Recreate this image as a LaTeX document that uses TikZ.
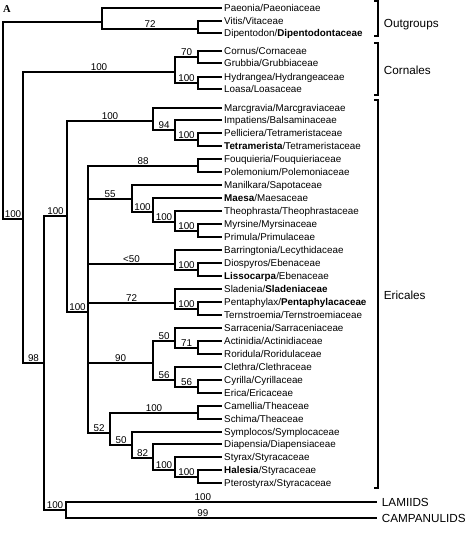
\documentclass[tikz,border=0pt]{standalone}
\usepackage{fontspec}
\setmainfont{Liberation Sans}
\newfontfamily\panelfont{Liberation Serif}
\usepackage{tikz}
\usetikzlibrary{positioning}
\newcommand{\leaffont}{\fontsize{8.4}{9}\selectfont}
\newcommand{\groupfont}{\fontsize{10}{12}\selectfont}

\begin{document}
\begin{tikzpicture}[
            x=0.03cm, y=-0.03cm,
            branch/.style={line width=1.2pt},
            leaf/.style={anchor=west, inner xsep=1.7pt, inner ysep=0pt, text height=6pt, text depth=0pt, font=\leaffont},
            support/.style={above, inner sep=0.7pt, font=\leaffont},
            clade/.style={anchor=west, inner xsep=4pt, inner ysep=0pt, text height=7pt, text depth=0pt, font=\groupfont},
            bracket/.style={line width=0.9pt},
        ]
        \useasboundingbox (0,0) rectangle (474,540);

        % Panel letter
        \node[font=\panelfont\bfseries\fontsize{9}{10}\selectfont] (panel) at (7,9) {A};

        % Leaves
        \node[leaf] (paeonia) at (222,8) {Paeonia/Paeoniaceae};
        \node[leaf] (vitis) at (222,21) {Vitis/Vitaceae};
        \node[leaf] (dipentodon) at (222,33) {Dipentodon/\textbf{Dipentodontaceae}};
        \node[leaf] (cornus) at (222,51) {Cornus/Cornaceae};
        \node[leaf] (grubbia) at (222,63) {Grubbia/Grubbiaceae};
        \node[leaf] (hydrangea) at (222,77) {Hydrangea/Hydrangeaceae};
        \node[leaf] (loasa) at (222,89) {Loasa/Loasaceae};
        \node[leaf] (marcgravia) at (222,108) {Marcgravia/Marcgraviaceae};
        \node[leaf] (impatiens) at (222,120) {Impatiens/Balsaminaceae};
        \node[leaf] (pelliciera) at (222,133) {Pelliciera/Tetrameristaceae};
        \node[leaf] (tetramerista) at (222,146) {\textbf{Tetramerista}/Tetrameristaceae};
        \node[leaf] (fouquieria) at (222,159) {Fouquieria/Fouquieriaceae};
        \node[leaf] (polemonium) at (222,172) {Polemonium/Polemoniaceae};
        \node[leaf] (manilkara) at (222,185) {Manilkara/Sapotaceae};
        \node[leaf] (maesa) at (222,198) {\textbf{Maesa}/Maesaceae};
        \node[leaf] (theophrasta) at (222,211) {Theophrasta/Theophrastaceae};
        \node[leaf] (myrsine) at (222,224) {Myrsine/Myrsinaceae};
        \node[leaf] (primula) at (222,237) {Primula/Primulaceae};
        \node[leaf] (barringtonia) at (222,250) {Barringtonia/Lecythidaceae};
        \node[leaf] (diospyros) at (222,263) {Diospyros/Ebenaceae};
        \node[leaf] (lissocarpa) at (222,276) {\textbf{Lissocarpa}/Ebenaceae};
        \node[leaf] (sladenia) at (222,289) {Sladenia/\textbf{Sladeniaceae}};
        \node[leaf] (pentaphylax) at (222,302) {Pentaphylax/\textbf{Pentaphylacaceae}};
        \node[leaf] (ternstroemia) at (222,315) {Ternstroemia/Ternstroemiaceae};
        \node[leaf] (sarracenia) at (222,328) {Sarracenia/Sarraceniaceae};
        \node[leaf] (actinidia) at (222,341) {Actinidia/Actinidiaceae};
        \node[leaf] (roridula) at (222,354) {Roridula/Roridulaceae};
        \node[leaf] (clethra) at (222,367) {Clethra/Clethraceae};
        \node[leaf] (cyrilla) at (222,380) {Cyrilla/Cyrillaceae};
        \node[leaf] (erica) at (222,393) {Erica/Ericaceae};
        \node[leaf] (camellia) at (222,406) {Camellia/Theaceae};
        \node[leaf] (schima) at (222,419) {Schima/Theaceae};
        \node[leaf] (symplocos) at (222,432) {Symplocos/Symplocaceae};
        \node[leaf] (diapensia) at (222,444) {Diapensia/Diapensiaceae};
        \node[leaf] (styrax) at (222,457) {Styrax/Styracaceae};
        \node[leaf] (halesia) at (222,470) {\textbf{Halesia}/Styracaceae};
        \node[leaf] (pterostyrax) at (222,483) {Pterostyrax/Styracaceae};
        \node[clade] (lamiids) at (377,502) {LAMIIDS};
        \node[clade] (campanulids) at (377,518) {CAMPANULIDS};

        % Internal nodes
        \coordinate (root) at (3,122);
        \coordinate (outgroup_node) at (102,22);
        \coordinate (vitis_node) at (198,29);
        \coordinate (core_node) at (23,219);
        \coordinate (cornales_node) at (175,72);
        \coordinate (cornus_node) at (198,57);
        \coordinate (hydrangea_node) at (198,83);
        \coordinate (asterid_node) at (44,363);
        \coordinate (sister_node) at (66,510);
        \coordinate (ericales_node) at (67,216);
        \coordinate (marcgravia_node) at (153,121);
        \coordinate (impatiens_node) at (175,130);
        \coordinate (tetramerista_node) at (198,140);
        \coordinate (ericales_core) at (88,312);
        \coordinate (fouquieria_node) at (198,166);
        \coordinate (primuloid_node) at (132,199);
        \coordinate (maesa_node) at (153,212);
        \coordinate (theophrasta_node) at (175,222);
        \coordinate (myrsine_node) at (198,231);
        \coordinate (barringtonia_node) at (175,264);
        \coordinate (lissocarpa_node) at (198,270);
        \coordinate (sladenia_node) at (175,303);
        \coordinate (pentaphylax_node) at (198,309);
        \coordinate (ericoid_node) at (153,363);
        \coordinate (sarracenia_node) at (175,341);
        \coordinate (actinidia_node) at (198,348);
        \coordinate (clethra_node) at (175,380);
        \coordinate (cyrilla_node) at (198,387);
        \coordinate (styracoid_node) at (110,433);
        \coordinate (camellia_node) at (198,413);
        \coordinate (symplocos_node) at (132,445);
        \coordinate (diapensia_node) at (153,458);
        \coordinate (styrax_node) at (175,470);
        \coordinate (halesia_node) at (198,477);

        % Backbone
        \draw[branch] (root) |- (outgroup_node);
        \draw[branch] (root) |- node[support, pos=0.75] {100} (core_node);
        \draw[branch] (core_node) |- node[support, pos=0.75] {100} (cornales_node);
        \draw[branch] (core_node) |- node[support, pos=0.75] {98} (asterid_node);
        \draw[branch] (asterid_node) |- node[support, pos=0.75] {100} (ericales_node);
        \draw[branch] (asterid_node) |- node[support, pos=0.75] {100} (sister_node);
        \draw[branch] (sister_node) |- node[support, pos=0.72] {100} (lamiids.west);
        \draw[branch] (sister_node) |- node[support, pos=0.72] {99} (campanulids.west);

        % Outgroups
        \draw[branch] (outgroup_node) |- (paeonia.west);
        \draw[branch] (outgroup_node) |- node[support, pos=0.75] {72} (vitis_node);
        \draw[branch] (vitis_node) |- (vitis.west);
        \draw[branch] (vitis_node) |- (dipentodon.west);

        % Cornales
        \draw[branch] (cornales_node) |- node[support, pos=0.75] {70} (cornus_node);
        \draw[branch] (cornales_node) |- node[support, pos=0.75] {100} (hydrangea_node);
        \draw[branch] (cornus_node) |- (cornus.west);
        \draw[branch] (cornus_node) |- (grubbia.west);
        \draw[branch] (hydrangea_node) |- (hydrangea.west);
        \draw[branch] (hydrangea_node) |- (loasa.west);

        % Ericales
        \draw[branch] (ericales_node) |- node[support, pos=0.75] {100} (marcgravia_node);
        \draw[branch] (ericales_node) |- node[support, pos=0.75] {100} (ericales_core);
        \draw[branch] (marcgravia_node) |- (marcgravia.west);
        \draw[branch] (marcgravia_node) |- node[support, pos=0.75] {94} (impatiens_node);
        \draw[branch] (impatiens_node) |- (impatiens.west);
        \draw[branch] (impatiens_node) |- node[support, pos=0.75] {100} (tetramerista_node);
        \draw[branch] (tetramerista_node) |- (pelliciera.west);
        \draw[branch] (tetramerista_node) |- (tetramerista.west);

        \draw[branch] (ericales_core) |- node[support, pos=0.75] {88} (fouquieria_node);
        \draw[branch] (ericales_core) |- node[support, pos=0.75] {55} (primuloid_node);
        \draw[branch] (ericales_core) |- node[support, pos=0.75] {<50} (barringtonia_node);
        \draw[branch] (ericales_core) |- node[support, pos=0.75] {72} (sladenia_node);
        \draw[branch] (ericales_core) |- node[support, pos=0.75] {90} (ericoid_node);
        \draw[branch] (ericales_core) |- node[support, pos=0.75] {52} (styracoid_node);

        \draw[branch] (fouquieria_node) |- (fouquieria.west);
        \draw[branch] (fouquieria_node) |- (polemonium.west);

        \draw[branch] (primuloid_node) |- (manilkara.west);
        \draw[branch] (primuloid_node) |- node[support, pos=0.75] {100} (maesa_node);
        \draw[branch] (maesa_node) |- (maesa.west);
        \draw[branch] (maesa_node) |- node[support, pos=0.75] {100} (theophrasta_node);
        \draw[branch] (theophrasta_node) |- (theophrasta.west);
        \draw[branch] (theophrasta_node) |- node[support, pos=0.75] {100} (myrsine_node);
        \draw[branch] (myrsine_node) |- (myrsine.west);
        \draw[branch] (myrsine_node) |- (primula.west);

        \draw[branch] (barringtonia_node) |- (barringtonia.west);
        \draw[branch] (barringtonia_node) |- node[support, pos=0.75] {100} (lissocarpa_node);
        \draw[branch] (lissocarpa_node) |- (diospyros.west);
        \draw[branch] (lissocarpa_node) |- (lissocarpa.west);

        \draw[branch] (sladenia_node) |- (sladenia.west);
        \draw[branch] (sladenia_node) |- node[support, pos=0.75] {100} (pentaphylax_node);
        \draw[branch] (pentaphylax_node) |- (pentaphylax.west);
        \draw[branch] (pentaphylax_node) |- (ternstroemia.west);

        \draw[branch] (ericoid_node) |- node[support, pos=0.75] {50} (sarracenia_node);
        \draw[branch] (ericoid_node) |- node[support, pos=0.75] {56} (clethra_node);
        \draw[branch] (sarracenia_node) |- (sarracenia.west);
        \draw[branch] (sarracenia_node) |- node[support, pos=0.75] {71} (actinidia_node);
        \draw[branch] (actinidia_node) |- (actinidia.west);
        \draw[branch] (actinidia_node) |- (roridula.west);
        \draw[branch] (clethra_node) |- (clethra.west);
        \draw[branch] (clethra_node) |- node[support, pos=0.75] {56} (cyrilla_node);
        \draw[branch] (cyrilla_node) |- (cyrilla.west);
        \draw[branch] (cyrilla_node) |- (erica.west);

        \draw[branch] (styracoid_node) |- node[support, pos=0.75] {100} (camellia_node);
        \draw[branch] (styracoid_node) |- node[support, pos=0.75] {50} (symplocos_node);
        \draw[branch] (camellia_node) |- (camellia.west);
        \draw[branch] (camellia_node) |- (schima.west);
        \draw[branch] (symplocos_node) |- (symplocos.west);
        \draw[branch] (symplocos_node) |- node[support, pos=0.75] {82} (diapensia_node);
        \draw[branch] (diapensia_node) |- (diapensia.west);
        \draw[branch] (diapensia_node) |- node[support, pos=0.75] {100} (styrax_node);
        \draw[branch] (styrax_node) |- (styrax.west);
        \draw[branch] (styrax_node) |- node[support, pos=0.75] {100} (halesia_node);
        \draw[branch] (halesia_node) |- (halesia.west);
        \draw[branch] (halesia_node) |- (pterostyrax.west);

        % Brackets and group names
        \draw[bracket] (374,1) -- (378,1) -- (378,36) -- (374,36);
        \draw[bracket] (374,43) -- (378,43) -- (378,95) -- (374,95);
        \draw[bracket] (374,100) -- (378,100) -- (378,488) -- (374,488);
        \node[clade] (outgroups) at (379,23) {Outgroups};
        \node[clade] (cornales) at (379,70) {Cornales};
        \node[clade] (ericales) at (379,295) {Ericales};

        \end{tikzpicture}
\end{document}
